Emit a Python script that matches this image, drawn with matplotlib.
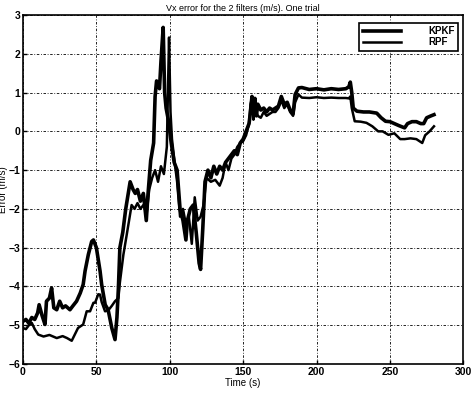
import matplotlib
matplotlib.use('Agg')
import matplotlib.pyplot as plt

plt.rcParams['font.family'] = ['Liberation Sans', 'DejaVu Sans']

# KPKF (thick line)
t_kpkf = [0, 2, 4, 6, 8, 10, 11, 13, 15, 16, 18, 19.5, 21, 23, 25, 27, 29, 32, 34, 36.5, 39, 41, 42.3,
          44.5, 46.8, 48, 50, 52.5, 53.6, 56, 58, 60.5, 62.7, 64, 65, 66, 68, 70, 73, 75, 76.5, 78, 80,
          82, 84, 85, 87, 89, 90, 91, 93, 94, 95.5, 96.5, 97.5, 99, 101, 103, 105, 107, 109, 111, 112,
          114, 116, 118, 120, 121, 122.5, 124, 126, 128, 130, 132, 134, 136, 138, 140, 142, 144, 146,
          148, 150, 152, 154, 155, 156, 157, 158, 159, 160, 162, 164, 166, 168, 170, 172, 174, 176, 178,
          180, 182, 184, 185.4, 187.7, 190, 195, 200, 205, 210, 215, 220, 222, 223, 224, 225, 227.5, 232,
          236, 241, 244, 247, 250, 253, 256, 260, 262, 265, 268, 271, 273, 275, 278, 280]
v_kpkf = [-4.9, -4.85, -4.95, -4.8, -4.85, -4.68, -4.47, -4.75, -4.98, -4.38, -4.3, -4.04, -4.55, -4.6,
          -4.38, -4.55, -4.5, -4.6, -4.5, -4.38, -4.17, -3.95, -3.6, -3.18, -2.84, -2.8, -3.0, -3.6,
          -3.95, -4.47, -4.6, -5.07, -5.37, -4.8, -4.04, -3.0, -2.6, -2.0, -1.3, -1.5, -1.6, -1.5, -1.8,
          -1.6, -2.3, -1.7, -0.75, -0.3, 0.9, 1.3, 1.1, 1.8, 2.68, 1.0, 0.6, 0.3, -0.3, -0.8, -1.0, -2.0,
          -2.3, -2.8, -2.3, -2.0, -1.9, -2.6, -3.4, -3.56, -2.5, -1.3, -1.0, -1.2, -0.9, -1.1, -0.9, -1.0,
          -0.8, -0.7, -0.6, -0.5, -0.6, -0.3, -0.2, 0.0, 0.2, 0.5, 0.9, 0.45, 0.85, 0.4, 0.7, 0.55, 0.6,
          0.5, 0.6, 0.55, 0.6, 0.65, 0.9, 0.7, 0.75, 0.55, 0.45, 0.95, 1.12, 1.13, 1.08, 1.1, 1.07, 1.1,
          1.08, 1.1, 1.15, 1.27, 1.0, 0.6, 0.52, 0.5, 0.5, 0.47, 0.35, 0.26, 0.25, 0.2, 0.15, 0.09, 0.2,
          0.25, 0.25, 0.2, 0.2, 0.35, 0.4, 0.43]

# RPF (thinner line)
t_rpf = [0, 2, 4, 6, 8, 10.4, 14, 18, 23, 27, 30, 33.2, 37.5, 41, 43.4, 45.7, 48, 49.1, 51.3, 52.5,
         53.6, 55.9, 58, 60.5, 62.7, 65, 66, 68.4, 70.7, 74, 76, 78, 80, 82, 84.3, 86, 88, 90, 92, 94,
         96, 98, 99, 99.5, 100.5, 101.5, 103, 105, 107, 109, 111, 113, 115, 117, 119, 121, 123, 125,
         128, 131, 134, 136, 138, 140, 142, 144, 146, 148, 150, 152, 154, 155, 156, 157, 158, 160, 162,
         164, 166, 168, 170, 172, 174, 176, 178, 180, 182, 184, 185.4, 187.7, 190, 195, 200, 205, 210,
         215, 220, 222, 223, 224, 226, 230, 234, 238, 242, 245, 249, 253, 257, 260, 264, 268, 272, 274,
         277, 280]
v_rpf = [-5.07, -5.1, -5.0, -4.94, -5.1, -5.24, -5.29, -5.25, -5.33, -5.28, -5.33, -5.4, -5.07, -4.98,
         -4.64, -4.64, -4.42, -4.42, -4.2, -4.21, -4.4, -4.64, -4.62, -4.5, -4.38, -4.3, -3.9, -3.18,
         -2.66, -1.9, -2.0, -1.85, -2.0, -1.9, -2.1, -1.5, -1.2, -1.0, -1.3, -0.9, -1.1, -0.4, 1.5,
         2.42, 0.5, -0.2, -0.7, -1.3, -2.2, -2.0, -2.4, -2.2, -2.9, -1.7, -2.3, -2.2, -1.9, -1.2, -1.3,
         -1.25, -1.4, -1.2, -0.8, -1.0, -0.7, -0.6, -0.4, -0.3, -0.25, -0.1, 0.2, 0.7, 0.85, 0.3, 0.6,
         0.4, 0.35, 0.5, 0.4, 0.45, 0.5, 0.5, 0.6, 0.8, 0.6, 0.7, 0.5, 0.4, 0.75, 0.95, 0.87, 0.86, 0.88,
         0.86, 0.87, 0.86, 0.86, 0.85, 0.9, 0.6, 0.26, 0.25, 0.22, 0.13, 0.0, 0.0, -0.09, -0.05, -0.2,
         -0.2, -0.18, -0.2, -0.3, -0.1, 0.0, 0.13]

x_ticks = [0, 50, 100, 150, 200, 250, 300]
y_ticks = [-6, -5, -4, -3, -2, -1, 0, 1, 2, 3]

fig = plt.figure(figsize=(4.74, 4.17), dpi=100)
ax = fig.add_axes([0.0485, 0.127, 0.929, 0.837])

ax.plot(t_kpkf, v_kpkf, color='black', lw=2.6, label='KPKF')
ax.plot(t_rpf, v_rpf, color='black', lw=1.8, label='RPF')

ax.set_xlim(0, 300)
ax.set_ylim(-6, 3)
ax.set_xticks(x_ticks)
ax.set_yticks(y_ticks)
ax.tick_params(direction='in', length=3, width=1, labelsize=7.5, pad=2)
for lab in ax.get_xticklabels() + ax.get_yticklabels():
    lab.set_fontweight('bold')
ax.grid(True, color='black', linestyle=(0, (3, 2, 1, 2)), linewidth=0.6)
for s in ax.spines.values():
    s.set_linewidth(1.2)

ax.set_title('Vx error for the 2 filters (m/s). One trial', fontsize=6.5, pad=3)
ax.set_xlabel('Time (s)', fontsize=7, labelpad=1)
ax.set_ylabel('Error (m/s)', fontsize=7, labelpad=0)

leg = ax.legend(loc='upper right', bbox_to_anchor=(0.989, 0.977), fontsize=7, handlelength=4.0,
                handletextpad=2.8, frameon=True, fancybox=False, edgecolor='black', framealpha=1,
                borderpad=0.35, borderaxespad=0, labelspacing=0.1, markerfirst=True)
leg.get_frame().set_linewidth(1.2)
for txt in leg.get_texts():
    txt.set_fontweight('bold')

fig.savefig('out.png', dpi=100)
